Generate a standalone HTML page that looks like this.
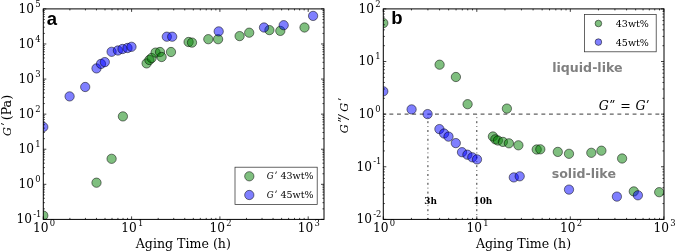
<!DOCTYPE html>
<html><head><meta charset="utf-8"><title>Figure</title><style>
html,body{margin:0;padding:0;background:#fff}
svg{display:block}
text{font-family:"DejaVu Serif","Liberation Serif",serif;fill:#000}
.t{font-size:12.2px}
.l{font-size:12.6px}
.g{font-size:9.5px}
.h{font-size:8.9px;font-weight:bold}
.p{font-family:"Liberation Sans",sans-serif;font-weight:bold;font-size:18.5px}
.s{font-family:"DejaVu Sans","Liberation Sans",sans-serif;font-weight:bold;font-size:12.6px;fill:#808080}
</style></head><body>
<svg width="675" height="251" viewBox="0 0 675 251">
<defs>
<clipPath id="clipa"><rect x="43.3" y="8.9" width="280.7" height="210.5"/></clipPath>
<clipPath id="clipb"><rect x="383.3" y="8.9" width="280.7" height="210.5"/></clipPath>
</defs>
<rect width="675" height="251" fill="#fff"/>
<g clip-path="url(#clipa)">
<circle cx="43.3" cy="215.6" r="4.65" fill="#008000" fill-opacity="0.5" stroke="#000" stroke-opacity="0.5" stroke-width="1.0"/>
<circle cx="96.5" cy="182.7" r="4.65" fill="#008000" fill-opacity="0.5" stroke="#000" stroke-opacity="0.5" stroke-width="1.0"/>
<circle cx="111.6" cy="158.8" r="4.65" fill="#008000" fill-opacity="0.5" stroke="#000" stroke-opacity="0.5" stroke-width="1.0"/>
<circle cx="122.9" cy="116.4" r="4.65" fill="#008000" fill-opacity="0.5" stroke="#000" stroke-opacity="0.5" stroke-width="1.0"/>
<circle cx="146.6" cy="63.4" r="4.65" fill="#008000" fill-opacity="0.5" stroke="#000" stroke-opacity="0.5" stroke-width="1.0"/>
<circle cx="149.4" cy="60" r="4.65" fill="#008000" fill-opacity="0.5" stroke="#000" stroke-opacity="0.5" stroke-width="1.0"/>
<circle cx="151.6" cy="58" r="4.65" fill="#008000" fill-opacity="0.5" stroke="#000" stroke-opacity="0.5" stroke-width="1.0"/>
<circle cx="155.6" cy="52.6" r="4.65" fill="#008000" fill-opacity="0.5" stroke="#000" stroke-opacity="0.5" stroke-width="1.0"/>
<circle cx="160" cy="52" r="4.65" fill="#008000" fill-opacity="0.5" stroke="#000" stroke-opacity="0.5" stroke-width="1.0"/>
<circle cx="161.6" cy="57" r="4.65" fill="#008000" fill-opacity="0.5" stroke="#000" stroke-opacity="0.5" stroke-width="1.0"/>
<circle cx="171" cy="52" r="4.65" fill="#008000" fill-opacity="0.5" stroke="#000" stroke-opacity="0.5" stroke-width="1.0"/>
<circle cx="188.6" cy="42" r="4.65" fill="#008000" fill-opacity="0.5" stroke="#000" stroke-opacity="0.5" stroke-width="1.0"/>
<circle cx="192" cy="42.6" r="4.65" fill="#008000" fill-opacity="0.5" stroke="#000" stroke-opacity="0.5" stroke-width="1.0"/>
<circle cx="208.3" cy="39.2" r="4.65" fill="#008000" fill-opacity="0.5" stroke="#000" stroke-opacity="0.5" stroke-width="1.0"/>
<circle cx="218.1" cy="39.2" r="4.65" fill="#008000" fill-opacity="0.5" stroke="#000" stroke-opacity="0.5" stroke-width="1.0"/>
<circle cx="239.6" cy="36.1" r="4.65" fill="#008000" fill-opacity="0.5" stroke="#000" stroke-opacity="0.5" stroke-width="1.0"/>
<circle cx="249.2" cy="32.7" r="4.65" fill="#008000" fill-opacity="0.5" stroke="#000" stroke-opacity="0.5" stroke-width="1.0"/>
<circle cx="269.4" cy="30.1" r="4.65" fill="#008000" fill-opacity="0.5" stroke="#000" stroke-opacity="0.5" stroke-width="1.0"/>
<circle cx="280.3" cy="30.9" r="4.65" fill="#008000" fill-opacity="0.5" stroke="#000" stroke-opacity="0.5" stroke-width="1.0"/>
<circle cx="304.5" cy="27.5" r="4.65" fill="#008000" fill-opacity="0.5" stroke="#000" stroke-opacity="0.5" stroke-width="1.0"/>
<circle cx="43.3" cy="127" r="4.65" fill="#0000ff" fill-opacity="0.5" stroke="#000" stroke-opacity="0.5" stroke-width="1.0"/>
<circle cx="69.6" cy="96.4" r="4.65" fill="#0000ff" fill-opacity="0.5" stroke="#000" stroke-opacity="0.5" stroke-width="1.0"/>
<circle cx="85.2" cy="87" r="4.65" fill="#0000ff" fill-opacity="0.5" stroke="#000" stroke-opacity="0.5" stroke-width="1.0"/>
<circle cx="96.5" cy="68.4" r="4.65" fill="#0000ff" fill-opacity="0.5" stroke="#000" stroke-opacity="0.5" stroke-width="1.0"/>
<circle cx="101" cy="63.9" r="4.65" fill="#0000ff" fill-opacity="0.5" stroke="#000" stroke-opacity="0.5" stroke-width="1.0"/>
<circle cx="104.8" cy="62.1" r="4.65" fill="#0000ff" fill-opacity="0.5" stroke="#000" stroke-opacity="0.5" stroke-width="1.0"/>
<circle cx="111.6" cy="51.8" r="4.65" fill="#0000ff" fill-opacity="0.5" stroke="#000" stroke-opacity="0.5" stroke-width="1.0"/>
<circle cx="117.9" cy="50.5" r="4.65" fill="#0000ff" fill-opacity="0.5" stroke="#000" stroke-opacity="0.5" stroke-width="1.0"/>
<circle cx="122.5" cy="49" r="4.65" fill="#0000ff" fill-opacity="0.5" stroke="#000" stroke-opacity="0.5" stroke-width="1.0"/>
<circle cx="127.5" cy="48" r="4.65" fill="#0000ff" fill-opacity="0.5" stroke="#000" stroke-opacity="0.5" stroke-width="1.0"/>
<circle cx="131.5" cy="46.8" r="4.65" fill="#0000ff" fill-opacity="0.5" stroke="#000" stroke-opacity="0.5" stroke-width="1.0"/>
<circle cx="166.8" cy="36.7" r="4.65" fill="#0000ff" fill-opacity="0.5" stroke="#000" stroke-opacity="0.5" stroke-width="1.0"/>
<circle cx="172.2" cy="36.7" r="4.65" fill="#0000ff" fill-opacity="0.5" stroke="#000" stroke-opacity="0.5" stroke-width="1.0"/>
<circle cx="218.7" cy="31.4" r="4.65" fill="#0000ff" fill-opacity="0.5" stroke="#000" stroke-opacity="0.5" stroke-width="1.0"/>
<circle cx="264" cy="27.5" r="4.65" fill="#0000ff" fill-opacity="0.5" stroke="#000" stroke-opacity="0.5" stroke-width="1.0"/>
<circle cx="283.7" cy="25.2" r="4.65" fill="#0000ff" fill-opacity="0.5" stroke="#000" stroke-opacity="0.5" stroke-width="1.0"/>
<circle cx="313.1" cy="15.9" r="4.65" fill="#0000ff" fill-opacity="0.5" stroke="#000" stroke-opacity="0.5" stroke-width="1.0"/>
</g>
<path d="M43.30 219.4v-3.0M43.30 8.9v3.0M69.88 219.4v-1.5M69.88 8.9v1.5M85.43 219.4v-1.5M85.43 8.9v1.5M96.46 219.4v-1.5M96.46 8.9v1.5M105.02 219.4v-1.5M105.02 8.9v1.5M112.01 219.4v-1.5M112.01 8.9v1.5M117.92 219.4v-1.5M117.92 8.9v1.5M123.04 219.4v-1.5M123.04 8.9v1.5M127.56 219.4v-1.5M127.56 8.9v1.5M131.60 219.4v-3.0M131.60 8.9v3.0M158.18 219.4v-1.5M158.18 8.9v1.5M173.73 219.4v-1.5M173.73 8.9v1.5M184.76 219.4v-1.5M184.76 8.9v1.5M193.32 219.4v-1.5M193.32 8.9v1.5M200.31 219.4v-1.5M200.31 8.9v1.5M206.22 219.4v-1.5M206.22 8.9v1.5M211.34 219.4v-1.5M211.34 8.9v1.5M215.86 219.4v-1.5M215.86 8.9v1.5M219.90 219.4v-3.0M219.90 8.9v3.0M246.48 219.4v-1.5M246.48 8.9v1.5M262.03 219.4v-1.5M262.03 8.9v1.5M273.06 219.4v-1.5M273.06 8.9v1.5M281.62 219.4v-1.5M281.62 8.9v1.5M288.61 219.4v-1.5M288.61 8.9v1.5M294.52 219.4v-1.5M294.52 8.9v1.5M299.64 219.4v-1.5M299.64 8.9v1.5M304.16 219.4v-1.5M304.16 8.9v1.5M308.20 219.4v-3.0M308.20 8.9v3.0M43.3 219.40h3.0M324.0 219.40h-3.0M43.3 208.84h1.5M324.0 208.84h-1.5M43.3 202.66h1.5M324.0 202.66h-1.5M43.3 198.28h1.5M324.0 198.28h-1.5M43.3 194.88h1.5M324.0 194.88h-1.5M43.3 192.10h1.5M324.0 192.10h-1.5M43.3 189.75h1.5M324.0 189.75h-1.5M43.3 187.72h1.5M324.0 187.72h-1.5M43.3 185.92h1.5M324.0 185.92h-1.5M43.3 184.32h3.0M324.0 184.32h-3.0M43.3 173.76h1.5M324.0 173.76h-1.5M43.3 167.58h1.5M324.0 167.58h-1.5M43.3 163.19h1.5M324.0 163.19h-1.5M43.3 159.79h1.5M324.0 159.79h-1.5M43.3 157.02h1.5M324.0 157.02h-1.5M43.3 154.67h1.5M324.0 154.67h-1.5M43.3 152.63h1.5M324.0 152.63h-1.5M43.3 150.84h1.5M324.0 150.84h-1.5M43.3 149.23h3.0M324.0 149.23h-3.0M43.3 138.67h1.5M324.0 138.67h-1.5M43.3 132.49h1.5M324.0 132.49h-1.5M43.3 128.11h1.5M324.0 128.11h-1.5M43.3 124.71h1.5M324.0 124.71h-1.5M43.3 121.93h1.5M324.0 121.93h-1.5M43.3 119.58h1.5M324.0 119.58h-1.5M43.3 117.55h1.5M324.0 117.55h-1.5M43.3 115.76h1.5M324.0 115.76h-1.5M43.3 114.15h3.0M324.0 114.15h-3.0M43.3 103.59h1.5M324.0 103.59h-1.5M43.3 97.41h1.5M324.0 97.41h-1.5M43.3 93.03h1.5M324.0 93.03h-1.5M43.3 89.63h1.5M324.0 89.63h-1.5M43.3 86.85h1.5M324.0 86.85h-1.5M43.3 84.50h1.5M324.0 84.50h-1.5M43.3 82.47h1.5M324.0 82.47h-1.5M43.3 80.67h1.5M324.0 80.67h-1.5M43.3 79.07h3.0M324.0 79.07h-3.0M43.3 68.51h1.5M324.0 68.51h-1.5M43.3 62.33h1.5M324.0 62.33h-1.5M43.3 57.94h1.5M324.0 57.94h-1.5M43.3 54.54h1.5M324.0 54.54h-1.5M43.3 51.77h1.5M324.0 51.77h-1.5M43.3 49.42h1.5M324.0 49.42h-1.5M43.3 47.38h1.5M324.0 47.38h-1.5M43.3 45.59h1.5M324.0 45.59h-1.5M43.3 43.98h3.0M324.0 43.98h-3.0M43.3 33.42h1.5M324.0 33.42h-1.5M43.3 27.24h1.5M324.0 27.24h-1.5M43.3 22.86h1.5M324.0 22.86h-1.5M43.3 19.46h1.5M324.0 19.46h-1.5M43.3 16.68h1.5M324.0 16.68h-1.5M43.3 14.33h1.5M324.0 14.33h-1.5M43.3 12.30h1.5M324.0 12.30h-1.5M43.3 10.51h1.5M324.0 10.51h-1.5M43.3 8.90h3.0M324.0 8.90h-3.0" stroke="#000" stroke-width="0.75" fill="none"/>
<rect x="43.3" y="8.9" width="280.7" height="210.5" fill="none" stroke="#000" stroke-width="1"/>
<line x1="383.3" y1="114.15" x2="664.0" y2="114.15" stroke="#000" stroke-opacity="0.62" stroke-width="1.2" stroke-dasharray="3.9 3.7" stroke-dashoffset="1.5"/>
<line x1="427.91" y1="114.15" x2="427.91" y2="219.4" stroke="#000" stroke-opacity="0.8" stroke-width="1" stroke-dasharray="2 2.9 0.8 3.1" stroke-dashoffset="1.75"/>
<line x1="476.80" y1="114.15" x2="476.80" y2="219.4" stroke="#000" stroke-opacity="0.8" stroke-width="1" stroke-dasharray="2 2.9 0.8 3.1" stroke-dashoffset="1.75"/>
<g clip-path="url(#clipb)">
<circle cx="383.3" cy="23.1" r="4.65" fill="#008000" fill-opacity="0.5" stroke="#000" stroke-opacity="0.5" stroke-width="1.0"/>
<circle cx="439.6" cy="64.7" r="4.65" fill="#008000" fill-opacity="0.5" stroke="#000" stroke-opacity="0.5" stroke-width="1.0"/>
<circle cx="455.9" cy="77" r="4.65" fill="#008000" fill-opacity="0.5" stroke="#000" stroke-opacity="0.5" stroke-width="1.0"/>
<circle cx="467.6" cy="104.2" r="4.65" fill="#008000" fill-opacity="0.5" stroke="#000" stroke-opacity="0.5" stroke-width="1.0"/>
<circle cx="506.9" cy="108.6" r="4.65" fill="#008000" fill-opacity="0.5" stroke="#000" stroke-opacity="0.5" stroke-width="1.0"/>
<circle cx="492.9" cy="136.5" r="4.65" fill="#008000" fill-opacity="0.5" stroke="#000" stroke-opacity="0.5" stroke-width="1.0"/>
<circle cx="495.3" cy="139.3" r="4.65" fill="#008000" fill-opacity="0.5" stroke="#000" stroke-opacity="0.5" stroke-width="1.0"/>
<circle cx="497.9" cy="140.5" r="4.65" fill="#008000" fill-opacity="0.5" stroke="#000" stroke-opacity="0.5" stroke-width="1.0"/>
<circle cx="502.9" cy="141.9" r="4.65" fill="#008000" fill-opacity="0.5" stroke="#000" stroke-opacity="0.5" stroke-width="1.0"/>
<circle cx="508.9" cy="143.3" r="4.65" fill="#008000" fill-opacity="0.5" stroke="#000" stroke-opacity="0.5" stroke-width="1.0"/>
<circle cx="518.4" cy="145.3" r="4.65" fill="#008000" fill-opacity="0.5" stroke="#000" stroke-opacity="0.5" stroke-width="1.0"/>
<circle cx="536.7" cy="149.5" r="4.65" fill="#008000" fill-opacity="0.5" stroke="#000" stroke-opacity="0.5" stroke-width="1.0"/>
<circle cx="540.3" cy="149.3" r="4.65" fill="#008000" fill-opacity="0.5" stroke="#000" stroke-opacity="0.5" stroke-width="1.0"/>
<circle cx="557.8" cy="151.9" r="4.65" fill="#008000" fill-opacity="0.5" stroke="#000" stroke-opacity="0.5" stroke-width="1.0"/>
<circle cx="569" cy="153.8" r="4.65" fill="#008000" fill-opacity="0.5" stroke="#000" stroke-opacity="0.5" stroke-width="1.0"/>
<circle cx="591.3" cy="152.8" r="4.65" fill="#008000" fill-opacity="0.5" stroke="#000" stroke-opacity="0.5" stroke-width="1.0"/>
<circle cx="601.4" cy="150.7" r="4.65" fill="#008000" fill-opacity="0.5" stroke="#000" stroke-opacity="0.5" stroke-width="1.0"/>
<circle cx="622.1" cy="158.5" r="4.65" fill="#008000" fill-opacity="0.5" stroke="#000" stroke-opacity="0.5" stroke-width="1.0"/>
<circle cx="633.8" cy="191.4" r="4.65" fill="#008000" fill-opacity="0.5" stroke="#000" stroke-opacity="0.5" stroke-width="1.0"/>
<circle cx="659.2" cy="192.2" r="4.65" fill="#008000" fill-opacity="0.5" stroke="#000" stroke-opacity="0.5" stroke-width="1.0"/>
<circle cx="383.3" cy="91.3" r="4.65" fill="#0000ff" fill-opacity="0.5" stroke="#000" stroke-opacity="0.5" stroke-width="1.0"/>
<circle cx="411.6" cy="109.4" r="4.65" fill="#0000ff" fill-opacity="0.5" stroke="#000" stroke-opacity="0.5" stroke-width="1.0"/>
<circle cx="427.6" cy="114.1" r="4.65" fill="#0000ff" fill-opacity="0.5" stroke="#000" stroke-opacity="0.5" stroke-width="1.0"/>
<circle cx="439.4" cy="129.1" r="4.65" fill="#0000ff" fill-opacity="0.5" stroke="#000" stroke-opacity="0.5" stroke-width="1.0"/>
<circle cx="444.1" cy="133.5" r="4.65" fill="#0000ff" fill-opacity="0.5" stroke="#000" stroke-opacity="0.5" stroke-width="1.0"/>
<circle cx="448.5" cy="136.6" r="4.65" fill="#0000ff" fill-opacity="0.5" stroke="#000" stroke-opacity="0.5" stroke-width="1.0"/>
<circle cx="455.8" cy="143.1" r="4.65" fill="#0000ff" fill-opacity="0.5" stroke="#000" stroke-opacity="0.5" stroke-width="1.0"/>
<circle cx="462" cy="152.2" r="4.65" fill="#0000ff" fill-opacity="0.5" stroke="#000" stroke-opacity="0.5" stroke-width="1.0"/>
<circle cx="467.4" cy="154.7" r="4.65" fill="#0000ff" fill-opacity="0.5" stroke="#000" stroke-opacity="0.5" stroke-width="1.0"/>
<circle cx="472.3" cy="157.3" r="4.65" fill="#0000ff" fill-opacity="0.5" stroke="#000" stroke-opacity="0.5" stroke-width="1.0"/>
<circle cx="477" cy="159.4" r="4.65" fill="#0000ff" fill-opacity="0.5" stroke="#000" stroke-opacity="0.5" stroke-width="1.0"/>
<circle cx="513.8" cy="177.4" r="4.65" fill="#0000ff" fill-opacity="0.5" stroke="#000" stroke-opacity="0.5" stroke-width="1.0"/>
<circle cx="519.7" cy="176.3" r="4.65" fill="#0000ff" fill-opacity="0.5" stroke="#000" stroke-opacity="0.5" stroke-width="1.0"/>
<circle cx="569" cy="189.6" r="4.65" fill="#0000ff" fill-opacity="0.5" stroke="#000" stroke-opacity="0.5" stroke-width="1.0"/>
<circle cx="616.9" cy="196.6" r="4.65" fill="#0000ff" fill-opacity="0.5" stroke="#000" stroke-opacity="0.5" stroke-width="1.0"/>
<circle cx="637.9" cy="195.3" r="4.65" fill="#0000ff" fill-opacity="0.5" stroke="#000" stroke-opacity="0.5" stroke-width="1.0"/>
</g>
<path d="M383.30 219.4v-3.0M383.30 8.9v3.0M411.45 219.4v-1.5M411.45 8.9v1.5M427.91 219.4v-1.5M427.91 8.9v1.5M439.59 219.4v-1.5M439.59 8.9v1.5M448.65 219.4v-1.5M448.65 8.9v1.5M456.06 219.4v-1.5M456.06 8.9v1.5M462.32 219.4v-1.5M462.32 8.9v1.5M467.74 219.4v-1.5M467.74 8.9v1.5M472.52 219.4v-1.5M472.52 8.9v1.5M476.80 219.4v-3.0M476.80 8.9v3.0M504.95 219.4v-1.5M504.95 8.9v1.5M521.41 219.4v-1.5M521.41 8.9v1.5M533.09 219.4v-1.5M533.09 8.9v1.5M542.15 219.4v-1.5M542.15 8.9v1.5M549.56 219.4v-1.5M549.56 8.9v1.5M555.82 219.4v-1.5M555.82 8.9v1.5M561.24 219.4v-1.5M561.24 8.9v1.5M566.02 219.4v-1.5M566.02 8.9v1.5M570.30 219.4v-3.0M570.30 8.9v3.0M598.45 219.4v-1.5M598.45 8.9v1.5M614.91 219.4v-1.5M614.91 8.9v1.5M626.59 219.4v-1.5M626.59 8.9v1.5M635.65 219.4v-1.5M635.65 8.9v1.5M643.06 219.4v-1.5M643.06 8.9v1.5M649.32 219.4v-1.5M649.32 8.9v1.5M654.74 219.4v-1.5M654.74 8.9v1.5M659.52 219.4v-1.5M659.52 8.9v1.5M663.80 219.4v-3.0M663.80 8.9v3.0M383.3 219.40h3.0M664.0 219.40h-3.0M383.3 203.56h1.5M664.0 203.56h-1.5M383.3 194.29h1.5M664.0 194.29h-1.5M383.3 187.72h1.5M664.0 187.72h-1.5M383.3 182.62h1.5M664.0 182.62h-1.5M383.3 178.45h1.5M664.0 178.45h-1.5M383.3 174.93h1.5M664.0 174.93h-1.5M383.3 171.87h1.5M664.0 171.87h-1.5M383.3 169.18h1.5M664.0 169.18h-1.5M383.3 166.78h3.0M664.0 166.78h-3.0M383.3 150.93h1.5M664.0 150.93h-1.5M383.3 141.67h1.5M664.0 141.67h-1.5M383.3 135.09h1.5M664.0 135.09h-1.5M383.3 129.99h1.5M664.0 129.99h-1.5M383.3 125.82h1.5M664.0 125.82h-1.5M383.3 122.30h1.5M664.0 122.30h-1.5M383.3 119.25h1.5M664.0 119.25h-1.5M383.3 116.56h1.5M664.0 116.56h-1.5M383.3 114.15h3.0M664.0 114.15h-3.0M383.3 98.31h1.5M664.0 98.31h-1.5M383.3 89.04h1.5M664.0 89.04h-1.5M383.3 82.47h1.5M664.0 82.47h-1.5M383.3 77.37h1.5M664.0 77.37h-1.5M383.3 73.20h1.5M664.0 73.20h-1.5M383.3 69.68h1.5M664.0 69.68h-1.5M383.3 66.62h1.5M664.0 66.62h-1.5M383.3 63.93h1.5M664.0 63.93h-1.5M383.3 61.53h3.0M664.0 61.53h-3.0M383.3 45.68h1.5M664.0 45.68h-1.5M383.3 36.42h1.5M664.0 36.42h-1.5M383.3 29.84h1.5M664.0 29.84h-1.5M383.3 24.74h1.5M664.0 24.74h-1.5M383.3 20.57h1.5M664.0 20.57h-1.5M383.3 17.05h1.5M664.0 17.05h-1.5M383.3 14.00h1.5M664.0 14.00h-1.5M383.3 11.31h1.5M664.0 11.31h-1.5M383.3 8.90h3.0M664.0 8.90h-3.0" stroke="#000" stroke-width="0.75" fill="none"/>
<rect x="383.3" y="8.9" width="280.7" height="210.5" fill="none" stroke="#000" stroke-width="1"/>
<text x="41.3" y="223.30" text-anchor="end" class="t">10<tspan dy="-6.2" dx="1.2" font-size="8.4">-1</tspan></text>
<text x="40.5" y="188.22" text-anchor="end" class="t">10<tspan dy="-6.2" dx="1.2" font-size="8.4">0</tspan></text>
<text x="40.5" y="153.13" text-anchor="end" class="t">10<tspan dy="-6.2" dx="1.2" font-size="8.4">1</tspan></text>
<text x="40.5" y="118.05" text-anchor="end" class="t">10<tspan dy="-6.2" dx="1.2" font-size="8.4">2</tspan></text>
<text x="40.5" y="82.97" text-anchor="end" class="t">10<tspan dy="-6.2" dx="1.2" font-size="8.4">3</tspan></text>
<text x="40.5" y="47.88" text-anchor="end" class="t">10<tspan dy="-6.2" dx="1.2" font-size="8.4">4</tspan></text>
<text x="40.5" y="12.80" text-anchor="end" class="t">10<tspan dy="-6.2" dx="1.2" font-size="8.4">5</tspan></text>
<text x="44.00" y="232.20000000000002" text-anchor="middle" class="t">10<tspan dy="-6.2" dx="1.2" font-size="8.4">0</tspan></text>
<text x="132.30" y="232.20000000000002" text-anchor="middle" class="t">10<tspan dy="-6.2" dx="1.2" font-size="8.4">1</tspan></text>
<text x="220.60" y="232.20000000000002" text-anchor="middle" class="t">10<tspan dy="-6.2" dx="1.2" font-size="8.4">2</tspan></text>
<text x="308.90" y="232.20000000000002" text-anchor="middle" class="t">10<tspan dy="-6.2" dx="1.2" font-size="8.4">3</tspan></text>
<text x="381.3" y="223.30" text-anchor="end" class="t">10<tspan dy="-6.2" dx="1.2" font-size="8.4">-2</tspan></text>
<text x="381.3" y="170.68" text-anchor="end" class="t">10<tspan dy="-6.2" dx="1.2" font-size="8.4">-1</tspan></text>
<text x="380.5" y="118.05" text-anchor="end" class="t">10<tspan dy="-6.2" dx="1.2" font-size="8.4">0</tspan></text>
<text x="380.5" y="65.43" text-anchor="end" class="t">10<tspan dy="-6.2" dx="1.2" font-size="8.4">1</tspan></text>
<text x="380.5" y="12.80" text-anchor="end" class="t">10<tspan dy="-6.2" dx="1.2" font-size="8.4">2</tspan></text>
<text x="384.00" y="232.20000000000002" text-anchor="middle" class="t">10<tspan dy="-6.2" dx="1.2" font-size="8.4">0</tspan></text>
<text x="477.50" y="232.20000000000002" text-anchor="middle" class="t">10<tspan dy="-6.2" dx="1.2" font-size="8.4">1</tspan></text>
<text x="571.00" y="232.20000000000002" text-anchor="middle" class="t">10<tspan dy="-6.2" dx="1.2" font-size="8.4">2</tspan></text>
<text x="664.50" y="232.20000000000002" text-anchor="middle" class="t">10<tspan dy="-6.2" dx="1.2" font-size="8.4">3</tspan></text>
<text x="183.3" y="248.2" text-anchor="middle" class="l">Aging Time (h)</text>
<text x="523.5" y="248.2" text-anchor="middle" class="l">Aging Time (h)</text>
<text transform="translate(10.6,136) rotate(-90)" class="l"><tspan x="0" font-style="italic" font-size="11.2">G</tspan><tspan x="10.2" dy="0.3" font-style="italic">ʹ</tspan><tspan x="15.8" dy="-0.3">(Pa)</tspan></text>
<text transform="translate(347.6,133.2) rotate(-90)" class="l" font-style="italic"><tspan x="0" font-size="11.2">G</tspan><tspan x="10.6" dy="0.3">ʺ</tspan><tspan x="14.0" dy="-0.3">/</tspan><tspan x="21.5" font-size="11.2">G</tspan><tspan x="32.2" dy="0.3">ʹ</tspan></text>
<text x="46.8" y="24.7" class="p">a</text>
<text x="391.2" y="24.2" class="p">b</text>
<rect x="235.0" y="167.2" width="82.2" height="37.3" fill="#fff" stroke="#333" stroke-width="0.75"/>
<circle cx="249.3" cy="176.3" r="4.65" fill="#008000" fill-opacity="0.5" stroke="#000" stroke-opacity="0.5" stroke-width="1.0"/>
<circle cx="249.3" cy="195" r="4.65" fill="#0000ff" fill-opacity="0.5" stroke="#000" stroke-opacity="0.5" stroke-width="1.0"/>
<text x="266.8" y="179.2" class="g"><tspan font-style="italic" font-size="8.7">G</tspan><tspan font-style="italic" dx="0.9">ʹ</tspan><tspan dx="0.1"> 43wt%</tspan></text>
<text x="266.8" y="197.7" class="g"><tspan font-style="italic" font-size="8.7">G</tspan><tspan font-style="italic" dx="0.9">ʹ</tspan><tspan dx="0.1"> 45wt%</tspan></text>
<rect x="584.4" y="14.4" width="71.8" height="37.4" fill="#fff" stroke="#333" stroke-width="0.75"/>
<circle cx="598.4" cy="23.5" r="3.3" fill="#008000" fill-opacity="0.5" stroke="#000" stroke-opacity="0.5" stroke-width="1.0"/>
<circle cx="598.4" cy="42.1" r="3.3" fill="#0000ff" fill-opacity="0.5" stroke="#000" stroke-opacity="0.5" stroke-width="1.0"/>
<text x="615.8" y="26.5" class="g">43wt%</text>
<text x="615.8" y="45.6" class="g">45wt%</text>
<text x="552.2" y="72" class="s">liquid-like</text>
<text x="551.7" y="178" class="s">solid-like</text>
<text x="598.8" y="110.2" class="l" font-style="italic">G<tspan dx="0.6">ʺ</tspan><tspan dx="1"> = </tspan><tspan dx="0.6">G</tspan><tspan dx="0.6">ʹ</tspan></text>
<text x="424.3" y="203.7" class="h">3h</text>
<text x="473.5" y="203.7" class="h">10h</text>
</svg>
</body></html>
